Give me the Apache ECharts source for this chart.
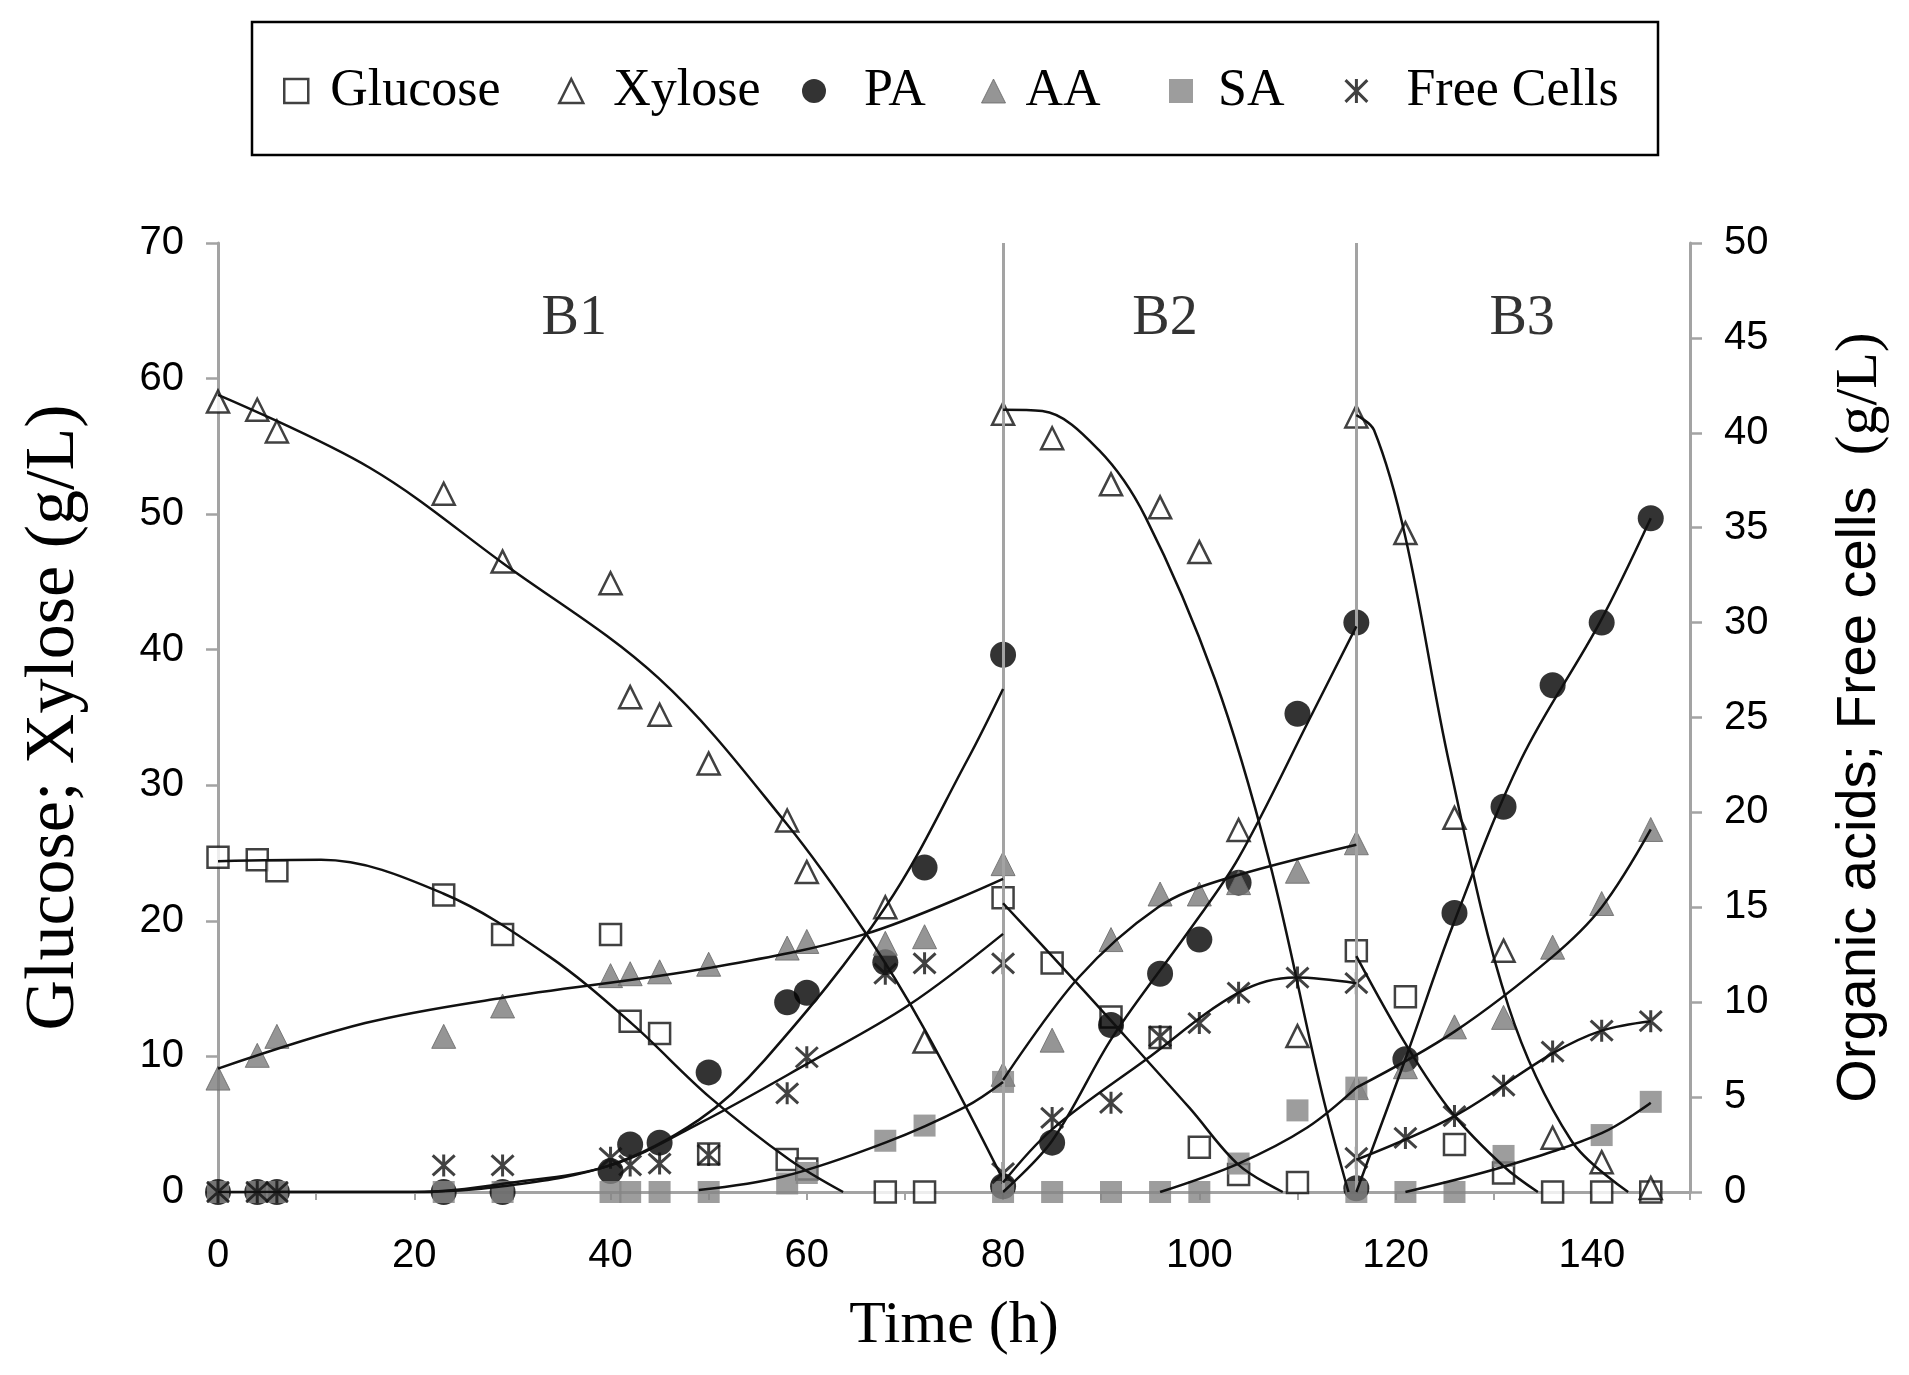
<!DOCTYPE html>
<html>
<head>
<meta charset="utf-8">
<title>Glucose / Xylose fermentation</title>
<script src="https://cdn.jsdelivr.net/npm/echarts@6.0.0/dist/echarts.min.js"></script>
<style>
  html, body { margin: 0; padding: 0; background: #fff; }
  #chart { width: 1909px; height: 1375px; }
</style>
</head>
<body>
<div id="chart"></div>
<script>
// measured points [time h, g/L]  (glucose, xylose on left axis; the rest on right axis)
const glucosePts = [[0,24.7],[4,24.5],[6,23.7],[23,21.9],[29,19.0],[40,19.0],[42,12.6],[45,11.7],[50,2.8],[58,2.4],[60,1.7],[68,0],[72,0],
  [80,21.7],[85,16.9],[91,12.9],[96,11.4],[100,3.3],[104,1.3],[110,0.7],
  [116,17.8],[121,14.4],[126,3.5],[131,1.4],[136,0],[141,0],[146,0]];
const xylosePts = [[0,58.3],[4,57.7],[6,56.1],[23,51.5],[29,46.5],[40,44.9],[42,36.5],[45,35.2],[50,31.6],[58,27.4],[60,23.6],[68,21.0],[72,11.1],
  [80,57.4],[85,55.6],[91,52.2],[96,50.5],[100,47.2],[104,26.7],[110,11.5],
  [116,57.2],[121,48.6],[126,27.6],[131,17.8],[136,4.0],[141,2.2],[146,0.3]];
const paPts = [[0,0],[4,0],[6,0],[23,0],[29,0],[40,1.1],[42,2.5],[45,2.6],[50,6.3],[58,10.0],[60,10.5],[68,12.1],[72,17.1],[80,28.3],
  [80,0.3],[85,2.6],[91,8.8],[96,11.5],[100,13.3],[104,16.3],[110,25.2],[116,30.0],
  [116,0.2],[121,7.0],[126,14.7],[131,20.3],[136,26.7],[141,30.0],[146,35.5]];
const aaPts = [[0,6.0],[4,7.2],[6,8.2],[23,8.2],[29,9.8],[40,11.4],[42,11.5],[45,11.6],[50,12.0],[58,12.85],[60,13.2],[68,13.1],[72,13.45],[80,17.3],
  [80,6.2],[85,8.0],[91,13.3],[96,15.7],[100,15.7],[104,16.3],[110,16.9],[116,18.4],
  [116,5.5],[121,6.6],[126,8.7],[131,9.2],[136,12.9],[141,15.2],[146,19.1]];
const saPts = [[0,0],[4,0],[6,0],[23,0],[29,0],[40,0],[42,0],[45,0],[50,0],[58,0.45],[60,1.0],[68,2.7],[72,3.5],[80,5.8],
  [80,0],[85,0],[91,0],[96,0],[100,0],[104,1.5],[110,4.3],[116,5.5],
  [116,0],[121,0],[126,0],[131,1.9],[141,3.0],[146,4.75]];
const cellPts = [[0,0],[4,0],[6,0],[23,1.4],[29,1.4],[40,1.8],[42,1.4],[45,1.5],[50,1.95],[58,5.2],[60,7.1],[68,11.5],[72,12.05],[80,12.05],
  [80,1.0],[85,3.9],[91,4.7],[96,8.2],[100,8.9],[104,10.5],[110,11.3],[116,11.0],
  [116,1.8],[121,2.85],[126,4.0],[131,5.6],[136,7.4],[141,8.5],[146,9.0]];

// fitted curves, one segment per batch
const glucoseFit = [
  [[0,24.4],[10.5,24.5],[23,22.0],[33.7,17.4],[42.2,12.4],[50.1,7.0],[58.2,2.4],[63.7,0]],
  [[80,21.3],[85,17.4],[91.3,12.4],[99,6.2],[104,2.0],[108.5,0]],
  [[116,17.4],[121.2,10.7],[125.8,5.8],[131,1.9],[134.5,0]]
];
const xyloseFit = [
  [[0,58.8],[15.5,53.4],[29,46.4],[44.9,37.9],[57.9,27.2],[66,19.1],[72,12],[79.8,1.2]],
  [[80,57.7],[84,57.6],[89.8,54.7],[94.5,49.8],[101.6,37.8],[107.1,24.5],[112.5,7.3],[115.2,0]],
  [[116,57.3],[117.8,56.2],[121,48.3],[125.5,31.5],[131.5,13.7],[137.9,3.8],[143.7,0]]
];
const paFit = [
  [[6,0],[20,0],[29,0.3],[39.9,1.4],[49,3.8],[55.7,6.95],[68,15.0],[76.4,22.8],[80,26.5]],
  [[80,0],[85,2.7],[91.2,8.2],[99,13.8],[104,17.6],[111.5,25.2],[116,29.8]],
  [[116,0],[121.2,7.3],[125.8,14.0],[132.8,22.8],[140.8,30.0],[146,35.5]]
];
const aaFit = [
  [[0,6.5],[15,8.9],[28.6,10.2],[50,11.8],[66,13.6],[80,16.5]],
  [[80,5.9],[87.7,11.3],[95.8,15.0],[102,16.4],[116,18.3]],
  [[116,5.5],[126,8.45],[136,12.4],[141,15.0],[146,19.1]]
];
const saFit = [
  [[49,0.1],[57.5,0.8],[68,2.6],[76.2,4.5],[80,5.8]],
  [[96,0],[104,1.5],[111,3.4],[116,5.5]],
  [[121,0],[131,1.33],[141,3.1],[146,4.7]]
];
const cellFit = [
  [[0,0],[20,0],[30,0.5],[40,1.4],[49,3.6],[60.2,6.8],[70.4,9.85],[80,13.6]],
  [[80,0.5],[85,3.3],[94.5,6.95],[104,10.5],[109.8,11.3],[116,11.0]],
  [[116,1.7],[126,4.0],[136,7.3],[141,8.5],[146,9.0]]
];

const batchEdges = [80, 116];
const batchNames = ['B1', 'B2', 'B3'];
const leftTicks = [0, 70, 10];   // min, max, step
const rightTicks = [0, 50, 5];
const timeTicks = [0, 150, 10];

const SERIF = "'Liberation Serif', 'Times New Roman', serif";
const SANS = "'Liberation Sans', Arial, sans-serif";
const AXIS_GRAY = '#a3a3a3';
const starPath = 'path://M0,0L20,20M20,0L0,20M10,-1L10,21';

const species = [
  { name: 'Glucose', pts: glucosePts, fit: glucoseFit, y: 0, symbol: 'rect', size: 21,
    style: { color: '#fff', borderColor: '#111', borderWidth: 2.5 } },
  { name: 'Xylose', pts: xylosePts, fit: xyloseFit, y: 0, symbol: 'triangle', size: 22,
    style: { color: '#fff', borderColor: '#111', borderWidth: 2.5 } },
  { name: 'PA', pts: paPts, fit: paFit, y: 1, symbol: 'circle', size: 26,
    style: { color: '#000' } },
  { name: 'AA', pts: aaPts, fit: aaFit, y: 1, symbol: 'triangle', size: 24,
    style: { color: '#7a7a7a', borderColor: '#666', borderWidth: 1 } },
  { name: 'SA', pts: saPts, fit: saFit, y: 1, symbol: 'rect', size: 22,
    style: { color: '#858585' } },
  { name: 'Free Cells', pts: cellPts, fit: cellFit, y: 1, symbol: starPath, size: 22,
    style: { color: 'rgba(0,0,0,0)', borderColor: '#111', borderWidth: 3 } }
];
// legend layout inside the framed box: [icon left px, gap icon->text px]
const legendLayout = [[283, 17], [558, 25], [802, 33], [981, 15], [1169, 20], [1344, 33]];

const series = [];
// batch boundaries + B labels (centred in each batch, nudged like the original)
const labelNudge = [-3.7, -1.5, -0.1];
series.push({
  type: 'scatter',
  name: 'batches',
  symbolSize: 0,
  silent: true,
  z: 1,
  data: batchNames.map((b, i) => {
    const lo = i === 0 ? 0 : batchEdges[i - 1];
    const hi = i < batchEdges.length ? batchEdges[i] : timeTicks[1];
    return { name: b, value: [(lo + hi) / 2 + labelNudge[i], 64.4] };
  }),
  label: {
    show: true, position: 'inside', formatter: '{b}',
    fontFamily: SERIF, fontSize: 56, color: '#000'
  },
  markLine: {
    silent: true, symbol: 'none',
    label: { show: false },
    lineStyle: { color: AXIS_GRAY, width: 3, type: 'solid' },
    data: batchEdges.map(x => ({ xAxis: x }))
  }
});

species.forEach(s => {
  series.push({
    type: 'scatter', name: s.name, yAxisIndex: s.y,
    symbol: s.symbol, symbolSize: s.size,
    itemStyle: s.style, data: s.pts, z: 3, silent: true
  });
  s.fit.forEach(seg => {
    series.push({
      type: 'line', name: s.name + ' fit', yAxisIndex: s.y,
      data: seg, smooth: 0.35,
      showSymbol: false, symbol: 'none', silent: true, z: 5,
      lineStyle: { color: '#111', width: 2.5 }
    });
  });
});

// one legend per entry so the spacing of the original box can be kept
const legends = species.map((s, i) => ({
  top: 65, left: legendLayout[i][0], padding: 0,
  itemWidth: 24, itemHeight: 24,
  selectedMode: false,
  textStyle: { fontFamily: SERIF, fontSize: 52, color: '#000', padding: [0, 0, 0, legendLayout[i][1]] },
  data: [{ name: s.name, icon: s.symbol, itemStyle: s.style }]
}));

function yAxisOf(ticks, pos, name, nameGap, nameStyle) {
  return {
    type: 'value', position: pos,
    min: ticks[0], max: ticks[1], interval: ticks[2],
    axisLine: { show: true, lineStyle: { color: AXIS_GRAY, width: 3 } },
    axisTick: { show: true, length: 12, lineStyle: { color: AXIS_GRAY, width: 2.5 } },
    axisLabel: { fontFamily: SANS, fontSize: 40, color: '#000', margin: 34 },
    splitLine: { show: false },
    name: name, nameLocation: 'middle', nameGap: nameGap,
    nameTextStyle: nameStyle
  };
}

const chart = echarts.init(document.getElementById('chart'), null, { renderer: 'canvas' });
chart.setOption({
  animation: false,
  backgroundColor: '#fff',
  grid: { left: 218, right: 219, top: 243, bottom: 183 },
  graphic: [{
    type: 'rect',
    shape: { x: 252, y: 22, width: 1406, height: 133 },
    style: { fill: 'none', stroke: '#000', lineWidth: 2.5 }
  }],
  legend: legends,
  xAxis: {
    type: 'value',
    min: timeTicks[0], max: timeTicks[1], interval: timeTicks[2],
    axisLine: { show: true, onZero: false, lineStyle: { color: AXIS_GRAY, width: 3 } },
    axisTick: { show: true, length: 8, lineStyle: { color: AXIS_GRAY, width: 2 } },
    axisLabel: {
      fontFamily: SANS, fontSize: 40, color: '#000', margin: 44,
      formatter: v => (v % 20 === 0 && v < timeTicks[1]) ? String(v) : ''
    },
    splitLine: { show: false },
    name: 'Time (h)', nameLocation: 'middle', nameGap: 104,
    nameTextStyle: { fontFamily: SERIF, fontSize: 60, color: '#000' }
  },
  yAxis: [
    yAxisOf(leftTicks, 'left', 'Glucose; Xylose (g/L)', 128,
      { fontFamily: SERIF, fontSize: 70, color: '#000' }),
    yAxisOf(rightTicks, 'right', '{s|Organic acids; Free cells  }{t|(g/L)}', 140,
      { rich: {
          s: { fontFamily: SANS, fontSize: 56, color: '#000' },
          t: { fontFamily: SERIF, fontSize: 60, color: '#000' }
        } })
  ],
  series: series
});
</script>
</body>
</html>
